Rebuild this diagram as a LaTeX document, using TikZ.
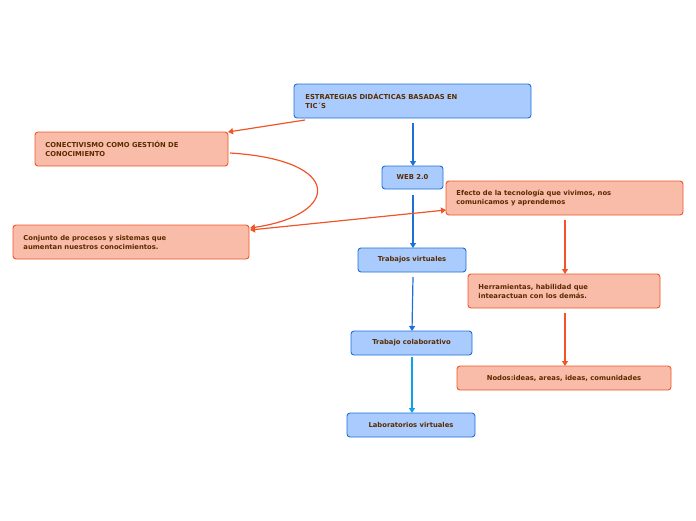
\documentclass[tikz,border=0pt]{standalone}
\usepackage{fontspec}
\setmainfont{DejaVu Sans}
\usetikzlibrary{arrows.meta}
\definecolor{bfill}{HTML}{A9CBFD}
\definecolor{bdraw}{HTML}{1F6FD8}
\definecolor{ofill}{HTML}{F9BCA8}
\definecolor{odraw}{HTML}{F0552A}
\definecolor{txt}{HTML}{5A2B00}
\definecolor{lblue}{HTML}{0EA0E8}
\tikzset{
 box/.style={rounded corners=3pt, line width=0.9pt, text=txt, font=\fontsize{6.8}{9}\selectfont\bfseries, inner sep=0pt},
 bbox/.style={box, fill=bfill, draw=bdraw},
 obox/.style={box, fill=ofill, draw=odraw},
 barr/.style={draw=bdraw, line width=1.2pt, -{Triangle[length=5pt,width=6pt]}},
 oarr/.style={draw=odraw, line width=1.2pt, -{Triangle[length=5pt,width=6pt]}},
}
\newcommand{\bx}[7]{% name, style, x1,y1,x2,y2, text
 \path[#2] (#3,#4) rectangle (#5,#6);
 \node[#2,draw=none,fill=none,anchor=west,align=left] at (#3+10,{(#4+#6)/2}) {#7};
 \coordinate (#1) at ({(#3+#5)/2},{(#4+#6)/2});
}
\begin{document}
\begin{tikzpicture}[x=1pt,y=-1pt]
\useasboundingbox (0,0) rectangle (696,520);
\path[bbox] (294,84) rectangle (531,118);
\node[box,anchor=west,align=left] (root) at (305,101) {ESTRATEGIAS DIDÁCTICAS BASADAS EN\\TIC´S};
\path[obox] (35,132) rectangle (228,166);
\node[box,anchor=west,align=left] (con) at (45,149) {CONECTIVISMO COMO GESTIÓN DE\\CONOCIMIENTO};
\path[bbox] (382,166) rectangle (443,189);
\node[box] (web) at (412.5,177.5) {WEB 2.0};
\path[obox] (13,225) rectangle (249,259);
\node[box,anchor=west,align=left] (conj) at (23,242) {Conjunto de procesos y sistemas que\\aumentan nuestros conocimientos.};
\path[obox] (446,181) rectangle (683,215);
\node[box,anchor=west,align=left] (efe) at (456,198) {Efecto de la tecnología que vivimos, nos\\comunicamos y aprendemos};
\path[bbox] (358,248) rectangle (466,272);
\node[box] (tv) at (412,260) {Trabajos virtuales};
\path[obox] (468,274) rectangle (660,308);
\node[box,anchor=west,align=left] (her) at (478,291) {Herramientas, habilidad que\\intearactuan con los demás.};
\path[bbox] (351,331) rectangle (472,355);
\node[box] (tc) at (411.5,343) {Trabajo colaborativo};
\path[obox] (457,366) rectangle (671,390);
\node[box] (nod) at (564,378) {Nodos:ideas, areas, ideas, comunidades};
\path[bbox] (347,413) rectangle (475,437);
\node[box] (lab) at (411,425) {Laboratorios virtuales};
\coordinate (a1) at (305,120);
\coordinate (a2) at (228,132);
\draw[oarr] (a1) -- (a2);
\coordinate (b1) at (413,123); \coordinate (b2) at (413,166);
\draw[barr] (b1) -- (b2);
\coordinate (c1) at (413,195); \coordinate (c2) at (413,248);
\draw[barr] (c1) -- (c2);
\coordinate (d1) at (413,277); \coordinate (d2) at (412,331);
\draw[barr] (d1) -- (d2);
\coordinate (e1) at (412,357); \coordinate (e2) at (412,413);
\draw[barr,draw=lblue] (e1) -- (e2);
\coordinate (f1) at (565,220); \coordinate (f2) at (565,274);
\draw[oarr] (f1) -- (f2);
\coordinate (g1) at (565,313); \coordinate (g2) at (565,366);
\draw[oarr] (g1) -- (g2);
\coordinate (h1) at (230,153); \coordinate (h2) at (250,228);
\draw[oarr] (h1) .. controls (345,160) and (340,215) .. (h2);
\coordinate (i1) at (250,230); \coordinate (i2) at (446,210);
\draw[oarr,{Triangle[length=5pt,width=6pt]}-{Triangle[length=5pt,width=6pt]}] (i1) -- (i2);
\end{tikzpicture}
\end{document}
